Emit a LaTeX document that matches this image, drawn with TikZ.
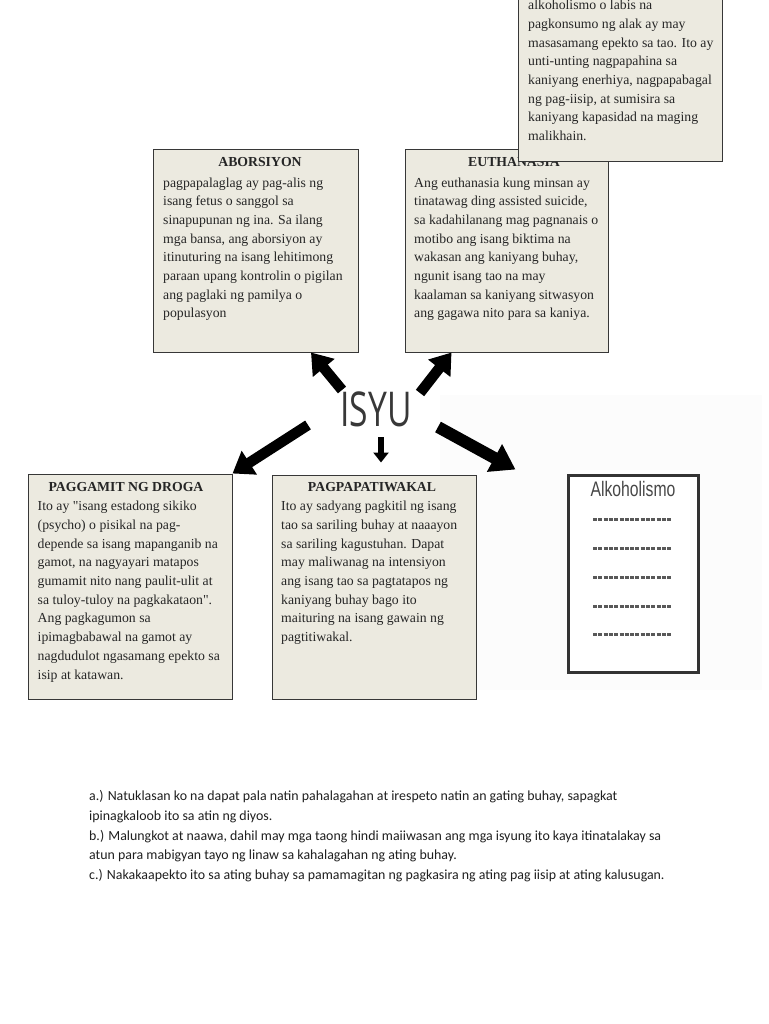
\documentclass[tikz,border=0pt]{standalone}
\usepackage{fontspec}
\setmainfont{Liberation Serif}
\newfontfamily\plainserif{Liberation Serif}
\newfontfamily\carlitofont{Carlito}
\newfontfamily\isyufont{Open Sans}
\newfontfamily\arialfont{Liberation Sans}
\usetikzlibrary{arrows.meta}

\definecolor{boxfill}{RGB}{236,234,224}
\definecolor{boxline}{RGB}{55,55,55}
\definecolor{inktext}{RGB}{38,38,38}

% straight double quote, without the TeX quote mapping
\newcommand{\straightquote}{{\plainserif"}}

\tikzset{
  issuebox/.style={draw=boxline, line width=1pt, fill=boxfill, rectangle, inner sep=0pt},
  boxtitle/.style={font=\fontsize{13.75}{18.7}\selectfont\bfseries, text=inktext, inner sep=0pt},
  boxbody/.style={font=\fontsize{13.75}{18.7}\selectfont, text=inktext, align=left, inner sep=0pt, anchor=north west},
  bigarrow/.style={line width=10.5pt, -{Triangle[width=27pt,length=20pt]}},
  rowdash/.style={line width=3pt, draw=black!65, dash pattern=on 4pt off 1.3pt}
}

\begin{document}
\begin{tikzpicture}[x=1pt, y=-1pt]
    % Page
    \useasboundingbox (0,0) rectangle (768,1024);
    \fill[white] (0,0) rectangle (768,1024);
    \fill[black!1] (440,395) rectangle (762,690);

    % ABORSIYON
    \node[issuebox, minimum width=205pt, minimum height=202pt] (abor) at (256,251) {};
    \node[boxtitle] (aborTitle) at (260,162) {ABORSIYON};
    \node[boxbody] (aborText) at (163,177.3) {pagpapalaglag ay pag-alis ng\\
      isang fetus o sanggol sa\\
      sinapupunan ng ina. Sa ilang\\
      mga bansa, ang aborsiyon ay\\
      itinuturing na isang lehitimong\\
      paraan upang kontrolin o pigilan\\
      ang paglaki ng pamilya o\\
      populasyon};

    % EUTHANASIA
    \node[issuebox, minimum width=203pt, minimum height=202pt] (euth) at (506.5,251) {};
    \node[boxtitle] (euthTitle) at (514,162) {EUTHANASIA};
    \node[boxbody] (euthText) at (414,177.3) {Ang euthanasia kung minsan ay\\
      tinatawag ding assisted suicide,\\
      sa kadahilanang mag pagnanais o\\
      motibo ang isang biktima na\\
      wakasan ang kaniyang buhay,\\
      ngunit isang tao na may\\
      kaalaman sa kaniyang sitwasyon\\
      ang gagawa nito para sa kaniya.};

    % Alkoholismo text box (top cut off)
    \node[issuebox, minimum width=204pt, minimum height=202pt] (alkoBox) at (620,61) {};
    \node[boxbody] (alkoText) at (528,-0.1) {alkoholismo o labis na\\
      pagkonsumo ng alak ay may\\
      masasamang epekto sa tao. Ito ay\\
      unti-unting nagpapahina sa\\
      kaniyang enerhiya, nagpapabagal\\
      ng pag-iisip, at sumisira sa\\
      kaniyang kapasidad na maging\\
      malikhain.};

    % PAGGAMIT NG DROGA
    \node[issuebox, minimum width=204pt, minimum height=225pt] (droga) at (130,586.5) {};
    \node[boxtitle] (drogaTitle) at (126,486.7) {PAGGAMIT NG DROGA};
    \node[boxbody] (drogaText) at (37.5,501) {Ito ay \straightquote isang estadong sikiko\\
      (psycho) o pisikal na pag-\\
      depende sa isang mapanganib na\\
      gamot, na nagyayari matapos\\
      gumamit nito nang paulit-ulit at\\
      sa tuloy-tuloy na pagkakataon\straightquote.\\
      Ang pagkagumon sa\\
      ipimagbabawal na gamot ay\\
      nagdudulot ngasamang epekto sa\\
      isip at katawan.};

    % PAGPAPATIWAKAL
    \node[issuebox, minimum width=204pt, minimum height=224pt] (pagpa) at (374,587) {};
    \node[boxtitle] (pagpaTitle) at (372,486.7) {PAGPAPATIWAKAL};
    \node[boxbody] (pagpaText) at (281,501) {Ito ay sadyang pagkitil ng isang\\
      tao sa sariling buhay at naaayon\\
      sa sariling kagustuhan. Dapat\\
      may maliwanag na intensiyon\\
      ang isang tao sa pagtatapos ng\\
      kaniyang buhay bago ito\\
      maituring na isang gawain ng\\
      pagtitiwakal.};

    % Alkoholismo picture
    \node[draw=black!80, line width=3pt, fill=white, minimum width=130pt, minimum height=197pt, inner sep=0pt] (alkoImg) at (633,573.5) {};
    \node[font=\arialfont\fontsize{21}{21}\selectfont, text=black!72, xscale=0.75, inner sep=0pt] (alkoTitle) at (633,489) {Alkoholismo};
    \foreach \y in {519,548,577,606,634}
        \draw[rowdash] (593,\y) -- (672,\y);

    % Centre word
    \node[font=\isyufont\fontsize{48}{48}\selectfont, text=black!78, xscale=0.7, inner sep=0pt] (isyu) at (376,409) {ISYU};

    % Arrows out of ISYU
    \draw[bigarrow] ([shift={(-34,-19)}]isyu.center) -- ([xshift=-48pt]abor.south east);
    \draw[bigarrow] ([shift={(44,-16)}]isyu.center) -- ([xshift=47pt]euth.south west);
    \draw[bigarrow] ([shift={(-68,16)}]isyu.center) -- (droga.north east);
    \draw[line width=6.5pt, -{Triangle[width=15pt,length=10pt]}] ([shift={(5,28)}]isyu.center) -- ([shift={(7,-12)}]pagpa.north);
    \draw[line width=12pt, -{Triangle[width=30pt,length=24pt]}] ([shift={(62,18)}]isyu.center) -- ([shift={(-51,-4)}]alkoImg.north west);

    % Reflection
    \node[font=\carlitofont\fontsize{13.9}{19.7}\selectfont, text=black!88, align=left, anchor=north west, inner sep=0pt] (reflect) at (89,790.5) {a.) Natuklasan ko na dapat pala natin pahalagahan at irespeto natin an gating buhay, sapagkat\\
      ipinagkaloob ito sa atin ng diyos.\\
      b.) Malungkot at naawa, dahil may mga taong hindi maiiwasan ang mga isyung ito kaya itinatalakay sa\\
      atun para mabigyan tayo ng linaw sa kahalagahan ng ating buhay.\\
      c.) Nakakaapekto ito sa ating buhay sa pamamagitan ng pagkasira ng ating pag iisip at ating kalusugan.};
\end{tikzpicture}
\end{document}
